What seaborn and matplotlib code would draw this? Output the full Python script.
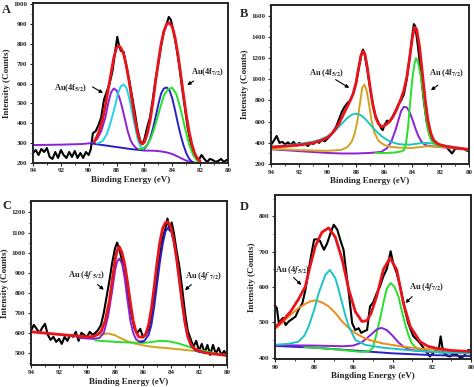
import matplotlib
matplotlib.use("Agg")
import matplotlib.pyplot as plt
import seaborn as sns
from matplotlib.ticker import MultipleLocator, AutoMinorLocator

# ---- Panel A (binding energy eV, counts) ----
A_raw_e = [94.0, 93.8, 93.6, 93.4, 93.2, 93.0, 92.8, 92.6, 92.4, 92.2, 92.0, 91.8, 91.6, 91.4, 91.2, 91.0, 90.8, 90.6, 90.4, 90.2,
           90.0, 89.85, 89.7, 89.5, 89.3, 89.1, 88.9, 88.7, 88.5, 88.3, 88.1, 87.95, 87.85, 87.7, 87.5, 87.3, 87.1, 86.9, 86.7, 86.5,
           86.3, 86.15, 86.0, 85.8, 85.6, 85.4, 85.2, 85.0, 84.8, 84.6, 84.4, 84.25, 84.1, 83.9, 83.7, 83.5, 83.3, 83.1, 82.9, 82.7,
           82.5, 82.3, 82.1, 81.9, 81.7, 81.5, 81.3, 81.1, 80.9, 80.7, 80.5, 80.3, 80.1, 80.0]
A_raw_i = [250, 265, 240, 270, 255, 275, 230, 220, 255, 225, 265, 240, 225, 255, 230, 260, 225, 250, 225, 255,
           240, 270, 350, 360, 390, 430, 520, 560, 600, 660, 760, 835, 800, 765, 760, 690, 620, 540, 460, 370,
           310, 295, 320, 380, 430, 520, 620, 700, 790, 860, 900, 935, 920, 860, 780, 690, 580, 480, 380, 310,
           260, 230, 215, 240, 220, 205, 220, 215, 205, 210, 220, 205, 215, 210]
A_fit_e = [89.6, 89.3, 89.0, 88.8, 88.6, 88.4, 88.2, 88.0, 87.85, 87.7, 87.5, 87.3, 87.1, 86.9, 86.7, 86.5, 86.3, 86.15, 86.0, 85.8,
           85.6, 85.4, 85.2, 85.0, 84.8, 84.6, 84.4, 84.2, 84.0, 83.8, 83.6, 83.4, 83.2, 83.0, 82.8, 82.6, 82.4, 82.2, 82.0]
A_fit_i = [305, 350, 420, 490, 570, 650, 730, 780, 790, 780, 750, 690, 610, 520, 430, 355, 305, 295, 305, 345,
           410, 500, 610, 710, 800, 865, 900, 905, 885, 830, 750, 650, 545, 445, 360, 295, 250, 222, 210]
A_pur_e = [94.0, 92.0, 90.5, 89.8, 89.4, 89.1, 88.8, 88.6, 88.4, 88.2, 88.0, 87.8, 87.6, 87.4, 87.2, 87.0, 86.8, 86.6, 86.4, 86.2,
           86.0, 85.6, 85.2, 84.8, 84.4, 84.0, 83.6, 83.2, 82.8, 82.4, 82.0, 81.0, 80.0]
A_pur_i = [290, 292, 295, 300, 320, 360, 430, 500, 555, 575, 565, 530, 480, 420, 360, 315, 290, 275, 268, 264,
           262, 262, 261, 258, 253, 245, 232, 218, 206, 201, 200, 200, 200]
A_blu_e = [89.8, 89.0, 88.0, 87.0, 86.5, 86.2, 86.0, 85.8, 85.6, 85.4, 85.2, 85.0, 84.8, 84.6, 84.4, 84.2, 84.0, 83.8, 83.6, 83.4,
           83.2, 83.0, 82.8, 82.6, 82.4]
A_blu_i = [298, 290, 280, 270, 266, 265, 272, 290, 320, 370, 430, 495, 550, 575, 580, 565, 525, 465, 400, 340,
           290, 250, 222, 207, 200]
A_cya_e = [89.4, 89.0, 88.7, 88.4, 88.1, 87.9, 87.7, 87.5, 87.3, 87.1, 86.9, 86.7, 86.5, 86.3, 86.1]
A_cya_i = [298, 310, 345, 410, 490, 550, 585, 595, 580, 530, 460, 390, 325, 285, 270]
A_grn_e = [86.4, 86.1, 85.8, 85.5, 85.2, 84.9, 84.6, 84.3, 84.0, 83.7, 83.4, 83.1, 82.8, 82.5, 82.2, 82.0]
A_grn_i = [270, 272, 290, 330, 395, 470, 540, 572, 578, 545, 470, 380, 295, 240, 210, 200]

# ---- Panel B ----
B_raw_e = [94.0, 93.8, 93.6, 93.4, 93.2, 93.0, 92.8, 92.6, 92.4, 92.2, 92.0, 91.8, 91.6, 91.4, 91.2, 91.0, 90.8, 90.6, 90.4, 90.2,
           90.0, 89.8, 89.6, 89.4, 89.2, 89.0, 88.8, 88.6, 88.4, 88.2, 88.0, 87.8, 87.6, 87.5, 87.4, 87.2, 87.0, 86.8, 86.6, 86.4,
           86.2, 86.1, 86.0, 85.8, 85.6, 85.4, 85.2, 85.0, 84.8, 84.6, 84.4, 84.2, 84.0, 83.9, 83.8, 83.6, 83.4, 83.2, 83.0, 82.8,
           82.6, 82.4, 82.2, 82.0, 81.8, 81.6, 81.4, 81.2, 81.0, 80.8, 80.6, 80.4, 80.2, 80.0]
B_raw_i = [380, 420, 465, 400, 410, 385, 405, 380, 410, 375, 400, 380, 395, 370, 400, 390, 420, 400, 430, 415,
           440, 470, 510, 550, 620, 690, 740, 775, 800, 860, 950, 1100, 1240, 1280, 1250, 1100, 920, 760, 650, 590,
           535, 520, 560, 610, 600, 650, 700, 760, 800, 860, 1000, 1200, 1420, 1520, 1500, 1300, 1050, 800, 600, 480,
           420, 390, 380, 370, 375, 360, 330, 300, 340, 350, 340, 345, 330, 320]
B_fit_e = [94.0, 93.0, 92.0, 91.0, 90.5, 90.0, 89.6, 89.2, 88.8, 88.5, 88.2, 88.0, 87.8, 87.65, 87.5, 87.35, 87.2, 87.0, 86.8, 86.6,
           86.4, 86.2, 86.0, 85.7, 85.4, 85.1, 84.8, 84.6, 84.4, 84.2, 84.0, 83.85, 83.7, 83.5, 83.3, 83.1, 82.9, 82.7, 82.5, 82.2,
           81.8, 81.0, 80.0]
B_fit_i = [360, 368, 380, 400, 420, 450, 500, 580, 690, 770, 860, 960, 1110, 1220, 1265, 1235, 1120, 930, 760, 640,
           580, 555, 560, 590, 640, 720, 820, 900, 1020, 1200, 1400, 1490, 1470, 1310, 1060, 810, 610, 490, 425, 390,
           372, 355, 338]
B_cya_e = [94.0, 93.0, 92.0, 91.0, 90.5, 90.0, 89.5, 89.0, 88.6, 88.3, 88.0, 87.7, 87.4, 87.0, 86.6, 86.2, 85.8, 85.4, 85.0, 84.6,
           84.2, 83.8, 83.4, 83.0, 82.6, 82.2, 81.8, 81.0, 80.0]
B_cya_i = [365, 375, 390, 412, 432, 462, 510, 580, 635, 665, 675, 665, 635, 575, 515, 465, 428, 405, 390, 383,
           383, 390, 398, 400, 395, 385, 375, 358, 335]
B_gld_e = [94.0, 92.0, 90.0, 89.0, 88.6, 88.3, 88.1, 87.9, 87.7, 87.55, 87.4, 87.25, 87.1, 86.9, 86.7, 86.4, 86.0, 85.5, 85.0, 84.0,
           83.0, 82.0, 81.0, 80.0]
B_gld_i = [345, 332, 325, 335, 360, 410, 480, 600, 780, 920, 950, 900, 790, 620, 500, 420, 380, 362, 355, 352,
           368, 362, 350, 335]
B_pur_e = [94.0, 92.0, 90.0, 89.0, 88.0, 87.0, 86.2, 85.8, 85.5, 85.2, 85.0, 84.8, 84.6, 84.4, 84.2, 84.0, 83.8, 83.6, 83.4, 83.2,
           83.0, 82.6, 82.0, 81.0, 80.0]
B_pur_i = [340, 322, 305, 300, 300, 305, 315, 350, 410, 520, 610, 700, 740, 735, 690, 620, 540, 470, 420, 390,
           375, 368, 360, 348, 335]
B_grn_e = [86.6, 85.8, 85.2, 84.8, 84.6, 84.45, 84.3, 84.15, 84.0, 83.85, 83.75, 83.6, 83.45, 83.3, 83.1, 82.9, 82.7, 82.4, 82.0]
B_grn_i = [305, 305, 310, 320, 330, 400, 560, 800, 1010, 1150, 1200, 1160, 1060, 930, 700, 520, 430, 385, 365]

# ---- Panel C ----
C_raw_e = [94.0, 93.8, 93.6, 93.4, 93.2, 93.0, 92.8, 92.6, 92.4, 92.2, 92.0, 91.8, 91.6, 91.4, 91.2, 91.0, 90.8, 90.6, 90.4, 90.2,
           90.0, 89.8, 89.6, 89.4, 89.2, 89.0, 88.8, 88.6, 88.4, 88.2, 88.0, 87.85, 87.7, 87.5, 87.35, 87.2, 87.0, 86.8, 86.6, 86.4,
           86.2, 86.0, 85.8, 85.6, 85.4, 85.2, 85.0, 84.8, 84.6, 84.4, 84.25, 84.1, 83.95, 83.8, 83.6, 83.4, 83.2, 83.0, 82.8, 82.6,
           82.4, 82.2, 82.0, 81.8, 81.6, 81.4, 81.2, 81.0, 80.8, 80.6, 80.4, 80.2, 80.0]
C_raw_i = [610, 640, 620, 600, 625, 645, 590, 565, 580, 555, 570, 545, 580, 560, 590, 580, 605, 560, 600, 590,
           580, 605, 590, 600, 615, 640, 700, 780, 860, 950, 1020, 1050, 1020, 960, 940, 860, 760, 680, 620, 600,
           620, 580, 590, 620, 680, 780, 880, 980, 1070, 1120, 1170, 1110, 1150, 1100, 1010, 930, 820, 700, 610, 570,
           530, 560, 510, 545, 500, 540, 490, 540, 495, 525, 490, 510, 485]
C_fit_e = [94.0, 92.0, 90.0, 89.5, 89.0, 88.7, 88.4, 88.2, 88.0, 87.85, 87.7, 87.5, 87.3, 87.1, 86.9, 86.7, 86.5, 86.3, 86.0, 85.8,
           85.6, 85.4, 85.2, 85.0, 84.8, 84.6, 84.4, 84.2, 84.0, 83.8, 83.6, 83.4, 83.2, 83.0, 82.8, 82.6, 82.4, 82.0, 81.5, 81.0,
           80.0]
C_fit_i = [605, 592, 580, 582, 605, 660, 760, 860, 960, 1010, 1030, 1000, 940, 850, 750, 660, 605, 580, 578, 595,
           640, 720, 830, 950, 1050, 1120, 1150, 1152, 1125, 1060, 970, 860, 750, 650, 580, 545, 525, 510, 500, 495,
           488]
C_pur_e = [90.6, 90.0, 89.5, 89.1, 88.8, 88.5, 88.2, 88.0, 87.85, 87.7, 87.5, 87.3, 87.1, 86.9, 86.7, 86.5, 86.3, 86.0]
C_pur_i = [575, 572, 570, 575, 600, 680, 810, 910, 955, 970, 945, 870, 760, 660, 600, 568, 558, 555]
C_blu_e = [86.2, 85.9, 85.6, 85.4, 85.2, 85.0, 84.8, 84.6, 84.4, 84.2, 84.0, 83.8, 83.6, 83.4, 83.2, 83.0, 82.8, 82.6, 82.3, 82.0,
           81.5]
C_blu_i = [555, 560, 590, 640, 730, 840, 950, 1040, 1105, 1125, 1110, 1055, 970, 860, 750, 650, 580, 540, 515, 505,
           500]
C_grn_e = [89.4, 88.0, 87.0, 86.0, 85.5, 84.8, 84.2, 83.5, 82.7, 82.0, 81.0, 80.0]
C_grn_i = [562, 555, 552, 550, 553, 560, 558, 548, 530, 515, 500, 485]
C_gld_e = [94.0, 93.0, 92.0, 91.0, 90.0, 89.5, 89.0, 88.5, 88.0, 87.5, 87.0, 86.5, 86.0, 85.5, 85.0, 84.0, 83.0, 82.0, 81.0, 80.0]
C_gld_i = [607, 600, 593, 586, 580, 584, 592, 597, 588, 570, 555, 545, 538, 532, 528, 522, 515, 507, 497, 485]

# ---- Panel D ----
D_raw_e = [90.0, 89.9, 89.8, 89.7, 89.6, 89.45, 89.3, 89.1, 88.95, 88.8, 88.6, 88.45, 88.3, 88.15, 88.0, 87.85, 87.7, 87.5, 87.33, 87.16,
           87.0, 86.82, 86.65, 86.5, 86.4, 86.23, 86.06, 85.9, 85.73, 85.6, 85.47, 85.3, 85.15, 85.0, 84.81, 84.65, 84.47, 84.3, 84.22, 84.1,
           83.96, 83.79, 83.65, 83.54, 83.37, 83.2, 83.05, 82.94, 82.75, 82.6, 82.35, 82.1, 81.84, 81.65, 81.55, 81.41, 81.2, 81.07, 80.9, 80.73,
           80.55, 80.39, 80.13, 80.0]
D_raw_i = [548, 540, 497, 505, 512, 492, 502, 510, 516, 535, 554, 590, 640, 690, 734, 735, 730, 705, 724, 753,
           776, 762, 730, 705, 658, 582, 497, 478, 483, 470, 474, 478, 545, 555, 582, 600, 630, 650, 668, 701,
           665, 639, 610, 582, 535, 497, 475, 460, 450, 441, 422, 403, 418, 420, 460, 413, 405, 403, 410, 408,
           400, 403, 422, 415]
D_fit_e = [90.0, 89.6, 89.2, 88.8, 88.45, 88.2, 87.94, 87.6, 87.26, 86.92, 86.57, 86.23, 85.9, 85.56, 85.3, 85.1, 84.81, 84.47, 84.13, 83.79,
           83.45, 83.1, 82.6, 82.2, 81.75, 81.0, 80.0]
D_fit_i = [485, 505, 530, 565, 601, 660, 715, 755, 767, 741, 677, 592, 530, 502, 505, 525, 573, 649, 682, 649,
           554, 488, 445, 432, 426, 420, 417]
D_org_e = [90.0, 89.3, 88.8, 88.45, 88.2, 87.94, 87.6, 87.26, 86.9, 86.57, 86.2, 85.9, 85.5, 85.2, 84.5, 83.5, 82.5, 81.5, 80.0]
D_org_i = [480, 516, 540, 552, 559, 562, 556, 545, 525, 502, 482, 469, 457, 450, 440, 431, 425, 421, 417]
D_cya_e = [90.0, 89.3, 88.8, 88.5, 88.28, 88.0, 87.77, 87.43, 87.2, 86.92, 86.75, 86.57, 86.4, 86.23, 85.9, 85.4, 84.5, 83.0, 81.5, 80.0]
D_cya_i = [436, 439, 445, 462, 488, 535, 582, 634, 648, 625, 592, 554, 517, 488, 450, 436, 428, 420, 415, 412]
D_pur_e = [90.0, 88.0, 86.5, 86.0, 85.6, 85.3, 85.0, 84.8, 84.56, 84.3, 84.0, 83.7, 83.45, 83.2, 82.9, 82.0, 80.0]
D_pur_i = [435, 434, 432, 434, 442, 455, 470, 480, 484, 478, 462, 443, 431, 424, 420, 416, 413]
D_grn_e = [88.5, 87.5, 86.5, 85.6, 85.2, 85.0, 84.81, 84.6, 84.47, 84.3, 84.1, 83.9, 83.7, 83.5, 83.37, 83.2, 83.03, 82.77, 82.4, 81.5,
           80.0]
D_grn_i = [430, 426, 421, 416, 418, 428, 469, 520, 554, 595, 611, 600, 573, 525, 497, 465, 441, 426, 418, 414,
           412]
D_blu_e = [90.0, 88.0, 86.0, 84.0, 82.0, 80.0]
D_blu_i = [433, 428, 420, 412, 407, 404]

RED = "#e8141c"
CYAN = "#22d3e6"
PURPLE = "#8a22d6"
NAVY = "#2a1fc8"
GREEN = "#27e02a"
GOLD = "#d4a21e"
TEAL = "#1cc4c4"
ORANGE = "#f08a1c"

sns.set_style("ticks")
plt.rcParams["font.family"] = ["Liberation Serif", "DejaVu Serif"]
plt.rcParams["font.weight"] = "bold"
plt.rcParams["mathtext.fontset"] = "stix"

fig = plt.figure(figsize=(4.74, 3.87), dpi=100)
axA = fig.add_axes([0.0696, 0.579, 0.4114, 0.413])
axB = fig.add_axes([0.5717, 0.576, 0.4178, 0.411])
axC = fig.add_axes([0.0654, 0.057, 0.4135, 0.424])
axD = fig.add_axes([0.580, 0.0724, 0.4137, 0.4236])


def curve(ax, e, i, color, lw=1.4):
    sns.lineplot(x=e, y=i, ax=ax, color=color, linewidth=lw, estimator=None, sort=False)


def style(ax, xlim, ylim, ystep, xlabel):
    ax.set_xlim(*xlim)
    ax.set_ylim(*ylim)
    ax.xaxis.set_major_locator(MultipleLocator(2))
    ax.xaxis.set_minor_locator(MultipleLocator(1))
    ax.yaxis.set_major_locator(MultipleLocator(ystep))
    ax.yaxis.set_minor_locator(AutoMinorLocator(2))
    ax.tick_params(which="major", direction="out", length=2.5, width=0.8, labelsize=5, pad=1.5)
    ax.tick_params(which="minor", direction="out", length=1.5, width=0.6)
    for lab in ax.get_xticklabels() + ax.get_yticklabels():
        lab.set_fontweight("bold")
    for sp in ax.spines.values():
        sp.set_linewidth(1.4)
    ax.set_xlabel(xlabel, fontsize=6.5, fontweight="bold", labelpad=1.5)
    ax.set_ylabel("Intensity (Counts)", fontsize=6.5, fontweight="bold", labelpad=2)


def label(ax, text, txy, tip, start):
    ax.annotate("", xy=tip, xytext=start,
                arrowprops=dict(arrowstyle="-|>", color="black", lw=0.8, mutation_scale=5))
    ax.text(txy[0], txy[1], text, fontsize=6, fontweight="bold", ha="center", va="center")


# A
curve(axA, A_raw_e, A_raw_i, "black", 1.5)
curve(axA, A_pur_e, A_pur_i, PURPLE)
curve(axA, A_blu_e, A_blu_i, NAVY)
curve(axA, A_cya_e, A_cya_i, CYAN)
curve(axA, A_grn_e, A_grn_i, GREEN)
curve(axA, A_fit_e, A_fit_i, RED, 2.0)
style(axA, (94, 80), (200, 1005), 100, "Binding Energy (eV)")
label(axA, r"Au(4f$_{\mathbf{5/2}}$)", (91.3, 575), (88.8, 545), (89.9, 590))
label(axA, r"Au(4f$_{\mathbf{7/2}}$)", (81.5, 655), (83.1, 585), (82.3, 620))

# B
curve(axB, B_raw_e, B_raw_i, "black", 1.5)
curve(axB, B_pur_e, B_pur_i, PURPLE)
curve(axB, B_gld_e, B_gld_i, GOLD)
curve(axB, B_cya_e, B_cya_i, TEAL)
curve(axB, B_grn_e, B_grn_i, GREEN)
curve(axB, B_fit_e, B_fit_i, RED, 2.0)
style(axB, (94, 80), (200, 1700), 200, "Binding Energy (eV)")
label(axB, r"Au (4f$_{\mathbf{5/2}}$)", (90.1, 1060), (88.3, 905), (89.6, 1010))
label(axB, r"Au (4f$_{\mathbf{7/2}}$)", (81.6, 1060), (82.85, 880), (82.05, 960))

# C
curve(axC, C_raw_e, C_raw_i, "black", 1.5)
curve(axC, C_gld_e, C_gld_i, GOLD)
curve(axC, C_grn_e, C_grn_i, GREEN)
curve(axC, C_pur_e, C_pur_i, PURPLE)
curve(axC, C_blu_e, C_blu_i, NAVY)
curve(axC, C_fit_e, C_fit_i, RED, 2.0)
style(axC, (94, 80), (440, 1258), 100, "Binding Energy (eV)")
label(axC, r"Au (4$f$ $_{5/2}$)", (90.0, 890), (88.65, 806), (89.4, 850))
label(axC, r"Au (4$f$ $_{7/2}$)", (81.65, 882), (83.15, 803), (82.4, 850))

# D
curve(axD, D_raw_e, D_raw_i, "black", 1.5)
curve(axD, D_blu_e, D_blu_i, NAVY)
curve(axD, D_grn_e, D_grn_i, GREEN)
curve(axD, D_pur_e, D_pur_i, PURPLE)
curve(axD, D_org_e, D_org_i, ORANGE)
curve(axD, D_cya_e, D_cya_i, TEAL)
curve(axD, D_fit_e, D_fit_i, RED, 2.0)
style(axD, (90, 80), (396, 860), 100, "Bingding Energy (eV)")
label(axD, r"Au (4$f$$_{5/2}$)", (89.1, 647), (88.55, 600), (89.15, 632))
label(axD, r"Au (4$f$$_{7/2}$)", (82.25, 601), (83.45, 549), (82.9, 578))

# panel letters
fig.text(0.004, 0.975, "A", fontsize=9, fontweight="bold", va="center")
fig.text(0.506, 0.965, "B", fontsize=9, fontweight="bold", va="center")
fig.text(0.004, 0.468, "C", fontsize=9, fontweight="bold", va="center")
fig.text(0.506, 0.465, "D", fontsize=9, fontweight="bold", va="center")

fig.savefig("out.png", dpi=100)
